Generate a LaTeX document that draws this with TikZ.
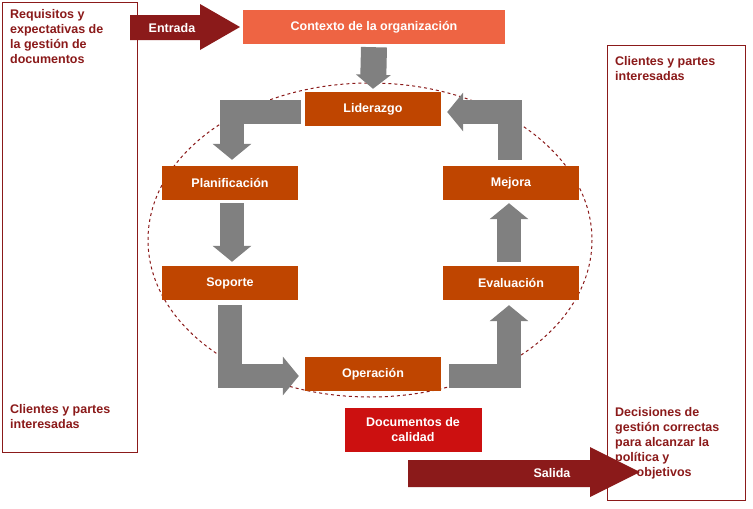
\documentclass[tikz,border=0pt]{standalone}
\usepackage{fontspec}
\setmainfont{Liberation Sans}
\usetikzlibrary{arrows.meta,calc}
\definecolor{dred}{HTML}{8B1A1A}
\definecolor{proc}{HTML}{BF4500}
\definecolor{ctx}{HTML}{EE6443}
\definecolor{docs}{HTML}{CC1010}
\definecolor{arr}{HTML}{808080}
\begin{document}
\begin{tikzpicture}[x=1pt,y=-1pt,
  fnt/.style={font=\bfseries\fontsize{12.5}{15}\selectfont},
  box/.style={fill=proc,text=white,fnt,minimum width=136pt,minimum height=34pt,inner sep=0pt},
  garrow/.style={draw=arr,line width=24pt,-{Triangle[length=16pt,width=38pt]}},
  lbl/.style={text=dred,fnt,align=left,anchor=north west,inner sep=0pt},
  frame/.style={draw=dred,line width=1.2pt}]
\useasboundingbox (0,0) rectangle (753,509);
\fill[white] (0,0) rectangle (753,509);
% frames
\node[frame,minimum width=135pt,minimum height=450pt,anchor=north west] (lf) at (2,2) {};
\node[frame,minimum width=138pt,minimum height=455pt,anchor=north west] (rf) at (607,45) {};
% entrada / salida arrows
\fill[dred] (130,15) -- (200,15) -- (200,4) -- (240,27) -- (200,50) -- (200,40) -- (130,40) -- cycle;
\fill[dred] (408,460) -- (590,460) -- (590,447) -- (640,472) -- (590,497) -- (590,487) -- (408,487) -- cycle;
\node[text=white,fnt] (ent) at (172,28) {Entrada};
\node[text=white,fnt] (sal) at (552,473) {Salida};
% texts
\node[lbl] (t1) at (10,9) {Requisitos y\\expectativas de\\la gestión de\\documentos};
\node[lbl] (t2) at (10,404) {Clientes y partes\\interesadas};
\node[lbl] (t3) at (615,56) {Clientes y partes\\interesadas};
\node[lbl] (t4) at (615,407) {Decisiones de\\gestión correctas\\para alcanzar la\\política y\\los objetivos};
% ellipse
\draw[dred,dashed,line width=1pt] (370,240) ellipse [x radius=222,y radius=157];
% boxes
\node[box,fill=ctx,minimum width=262pt] (ctx) at (374,27) {Contexto de la organización};
\node[box] (lid) at (373,109) {Liderazgo};
\node[box] (plan) at (230,183) {Planificación};
\node[box] (sop) at (230,283) {Soporte};
\node[box] (op) at (373,374) {Operación};
\node[box] (ev) at (511,283) {Evaluación};
\node[box] (mej) at (511,183) {Mejora};
\node[box,fill=docs,minimum width=137pt,minimum height=44pt,align=center] (doc) at (413,430) {Documentos de\\calidad};
% gray arrows
\draw[garrow,line width=26pt,-{Triangle[length=14pt,width=34pt]}] ($(ctx.south)+(0,3)$) -- ($(lid.north)+(0,-3)$);
\draw[garrow] ($(lid.west)+(-4,3)$) -| ($(plan.north)+(2,-6)$);
\draw[garrow] ($(plan.south)+(2,3)$) -- ($(sop.north)+(2,-4)$);
\draw[garrow] ($(sop.south)+(0,5)$) |- ($(op.west)+(-6,2)$);
\draw[garrow] ($(op.east)+(8,2)$) -| ($(ev.south)+(-2,5)$);
\draw[garrow] ($(ev.north)+(-2,-4)$) -- ($(mej.south)+(-2,3)$);
\draw[garrow] ($(mej.north)+(-1,-6)$) |- ($(lid.east)+(6,3)$);
\end{tikzpicture}
\end{document}
